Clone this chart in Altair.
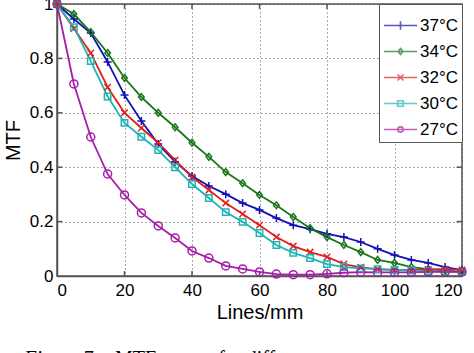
import altair as alt
import pandas as pd

# ---- data ----
lines_per_mm = [0, 5, 10, 15, 20, 25, 30, 35, 40, 45, 50, 55, 60,
                65, 70, 75, 80, 85, 90, 95, 100, 105, 110, 115, 120]

mtf_37 = [1.0, 0.945, 0.893, 0.787, 0.665, 0.57, 0.485, 0.42, 0.368, 0.331, 0.301, 0.268, 0.243,
          0.213, 0.187, 0.172, 0.155, 0.143, 0.125, 0.1, 0.077, 0.059, 0.048, 0.033, 0.022]
mtf_34 = [1.0, 0.963, 0.897, 0.82, 0.728, 0.658, 0.6, 0.547, 0.49, 0.438, 0.382, 0.341, 0.298,
          0.26, 0.217, 0.176, 0.143, 0.114, 0.088, 0.059, 0.048, 0.033, 0.025, 0.02, 0.015]
mtf_32 = [1.0, 0.91, 0.82, 0.694, 0.6, 0.544, 0.49, 0.426, 0.364, 0.316, 0.268, 0.228, 0.187,
          0.143, 0.11, 0.088, 0.07, 0.044, 0.032, 0.025, 0.022, 0.022, 0.024, 0.025, 0.022]
mtf_30 = [1.0, 0.915, 0.79, 0.66, 0.563, 0.512, 0.463, 0.40, 0.338, 0.287, 0.235, 0.199, 0.158,
          0.114, 0.085, 0.066, 0.044, 0.033, 0.028, 0.025, 0.022, 0.02, 0.018, 0.016, 0.015]
mtf_27 = [1.0, 0.706, 0.511, 0.375, 0.298, 0.232, 0.184, 0.14, 0.092, 0.066, 0.037, 0.026, 0.015,
          0.007, 0.005, 0.005, 0.008, 0.012, 0.014, 0.013, 0.013, 0.013, 0.015, 0.015, 0.015]

series_names = ["37°C", "34°C", "32°C", "30°C", "27°C"]
series_values = [mtf_37, mtf_34, mtf_32, mtf_30, mtf_27]
series_colors = ["#1010b8", "#1a761a", "#e0201c", "#20b4b4", "#a81ca8"]

# marker shapes (data points) and legend symbols (line + marker)
marker_paths = [
    "M-1,0L1,0M0,-1L0,1",                      # plus
    "M0,-0.85L0.7,0L0,0.85L-0.7,0Z",           # diamond
    "M-0.8,-0.8L0.8,0.8M-0.8,0.8L0.8,-0.8",    # x
    "M-0.8,-0.8H0.8V0.8H-0.8Z",                # square
    "circle",
]
legend_paths = [
    "M-1,0L1,0M0,-0.25L0,0.25",
    "M-1,0L1,0M0,-0.18L0.15,0L0,0.18L-0.15,0Z",
    "M-1,0L1,0M-0.18,-0.18L0.18,0.18M-0.18,0.18L0.18,-0.18",
    "M-1,0L1,0M-0.17,-0.17H0.17V0.17H-0.17Z",
    "M-1,0L1,0M0.16,0A0.16,0.16 0 1,1 -0.16,0A0.16,0.16 0 1,1 0.16,0",
]

x_ticks = [0, 20, 40, 60, 80, 100, 120]
y_ticks = [0, 0.2, 0.4, 0.6, 0.8, 1]
x_inner_ticks = [20, 40, 60, 80, 100]
y_inner_ticks = [0.2, 0.4, 0.6, 0.8]

caption_italic = "Figure 7:"
caption_rest = "MTF curves for different temperatures"

rows = []
for name, vals in zip(series_names, series_values):
    for xv, yv in zip(lines_per_mm, vals):
        rows.append({"x": xv, "mtf": yv, "series": name})
df = pd.DataFrame(rows)

FONT = "Liberation Sans"

x_enc = alt.X("x:Q", scale=alt.Scale(domain=[0, 120], nice=False, zero=False),
              axis=alt.Axis(values=x_ticks, title="Lines/mm", grid=True, ticks=False,
                            labelPadding=6, titlePadding=4, format="d"))
y_enc = alt.Y("mtf:Q", scale=alt.Scale(domain=[0, 1], nice=False),
              axis=alt.Axis(values=y_ticks, title="MTF", grid=True, ticks=False,
                            labelPadding=4, titlePadding=6, format="~g"))

color_data = alt.Color("series:N", scale=alt.Scale(domain=series_names, range=series_colors),
                       legend=None)

base = alt.Chart(df)

lines = base.mark_line(strokeWidth=1.8).encode(
    x=x_enc, y=y_enc, color=color_data, detail="series:N",
    order=alt.Order("x:Q"))

points = base.mark_point(filled=False, strokeWidth=1.5, size=64, opacity=1).encode(
    x="x:Q", y="mtf:Q",
    color=color_data,
    shape=alt.Shape("series:N", scale=alt.Scale(domain=series_names, range=marker_paths),
                    legend=None))

# legend-only layer (no rows drawn)
legend_layer = base.mark_point(filled=False, strokeWidth=1.6, size=1100).encode(
    x="x:Q", y="mtf:Q",
    color=alt.Color("series:N", scale=alt.Scale(domain=series_names, range=series_colors),
                    legend=alt.Legend(title=None, orient="top-right", offset=0,
                                      labelFont=FONT, labelFontSize=17, labelColor="black",
                                      symbolStrokeWidth=1.6, symbolSize=1100,
                                      rowPadding=0, labelOffset=2,
                                      strokeColor="#555", fillColor="white",
                                      padding=4, cornerRadius=0)),
    shape=alt.Shape("series:N", scale=alt.Scale(domain=series_names, range=legend_paths),
                    legend=alt.Legend(title=None, orient="top-right"))
).transform_filter("datum.x < 0")

# inward ticks like the original
tick_color = "#555"
xt = pd.DataFrame({"t": x_inner_ticks})
yt = pd.DataFrame({"t": y_inner_ticks})
bottom_ticks = alt.Chart(xt).mark_rule(color=tick_color, strokeWidth=1.5).encode(
    x="t:Q", y=alt.datum(0), y2=alt.datum(0.018))
top_ticks = alt.Chart(xt).mark_rule(color=tick_color, strokeWidth=1.5).encode(
    x="t:Q", y=alt.datum(1), y2=alt.datum(0.982))
left_ticks = alt.Chart(yt).mark_rule(color=tick_color, strokeWidth=1.5).encode(
    y="t:Q", x=alt.datum(0), x2=alt.datum(1.6))
right_ticks = alt.Chart(yt).mark_rule(color=tick_color, strokeWidth=1.5).encode(
    y="t:Q", x=alt.datum(120), x2=alt.datum(118.4))

cap1 = alt.Chart(pd.DataFrame({"t": [caption_italic]})).mark_text(
    font="Liberation Serif", fontSize=20, fontStyle="italic", align="left", baseline="top",
    color="black").encode(text="t:N", x=alt.value(-33), y=alt.value(345))
cap2 = alt.Chart(pd.DataFrame({"t": [caption_rest]})).mark_text(
    font="Liberation Serif", fontSize=20, align="left", baseline="top",
    color="black").encode(text="t:N", x=alt.value(58), y=alt.value(345))

chart = alt.layer(
    bottom_ticks, top_ticks, left_ticks, right_ticks,
    lines, points, legend_layer, cap1, cap2
).resolve_scale(
    color="independent", shape="independent"
).properties(
    width=405, height=272,
    autosize=alt.AutoSizeParams(type="none"),
    padding={"left": 57, "top": 4, "right": 12, "bottom": 77},
    background="white",
).configure_view(
    stroke="#555", strokeWidth=1.5
).configure_axis(
    labelFont=FONT, labelFontSize=17, labelColor="black",
    titleFont=FONT, titleFontSize=20, titleFontWeight="normal", titleColor="black",
    domainColor="#555", domainWidth=1.5,
    gridColor="#444", gridDash=[1, 3], gridWidth=1, gridOpacity=0.9,
)

chart.save("out.html", embed_options={"renderer": "svg", "actions": False})
